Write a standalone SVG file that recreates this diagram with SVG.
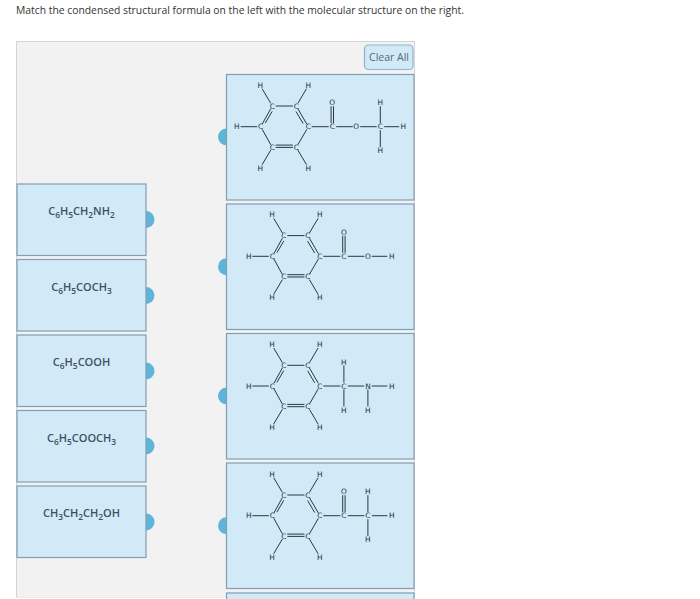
<svg xmlns="http://www.w3.org/2000/svg" width="700" height="599" viewBox="0 0 700 599">
<style>
.title{font:10.35px "Open Sans",sans-serif;fill:#333}
.panel{fill:#f2f2f2;stroke:#d4d4d4;stroke-width:1}
.box{fill:#d2e9f7;stroke:#7f9fb3;stroke-width:1.2}
.btn{fill:#d2e9f7;stroke:#8fb4c9;stroke-width:1.2}
.btntext{font:10.5px "Open Sans",sans-serif;fill:#4f6b7d;text-anchor:middle}
.f{font:600 11px "Open Sans",sans-serif;fill:#3c5165;text-anchor:middle}
.f .s{font-size:8.4px}
.a{font:7.4px "DejaVu Sans",sans-serif;fill:#26323a;text-anchor:middle;dominant-baseline:central}
.h{fill:#5fb5d9}
.b{fill:none;stroke:#2a3842;stroke-width:1}
</style>
<defs>
<path id="ring" class="b" d="M1.500-2.600L10.100-18.100M4.600-3.600L11.500-15.400M15-20.700H32.200M37.100-18.100L46.100-2.600M35.300-15.200L42.400-3.200M46.100 2.600L37.100 18.100M32.200 20.700H15M32.200 18.400H15M10.100 18.100L1.500 2.600M-3.500 0H-20M10.100-23.300L1.400-38M37.100-23.300L45.800-38M10.100 23.300L1.400 38M37.100 23.300L45.800 38M51 0H68"/>
</defs>
<rect width="700" height="599" fill="#fff"/>
<text class="title" x="16" y="14">Match the condensed structural formula on the left with the molecular structure on the right.</text>
<rect id="panel" class="panel" x="16.500" y="41.500" width="398" height="556"/>
<g id="clear-all"><rect class="btn" x="364.500" y="45" width="48.500" height="24.500" rx="4"/><text class="btntext" x="389" y="61">Clear All</text></g>

<g id="formula-1"><path class="h" d="M146 211a8.500 8.500 0 0 1 0 17z"/><rect class="box" x="17" y="184" width="129" height="71.500"/><text class="f" x="81.500" y="215">C<tspan class="s" dy="2.500">6</tspan><tspan dy="-2.500">H</tspan><tspan class="s" dy="2.500">5</tspan><tspan dy="-2.500">CH</tspan><tspan class="s" dy="2.500">2</tspan><tspan dy="-2.500">NH</tspan><tspan class="s" dy="2.500">2</tspan></text></g>
<g id="formula-2"><path class="h" d="M146 287a8.500 8.500 0 0 1 0 17z"/><rect class="box" x="17" y="259.500" width="129" height="71.500"/><text class="f" x="81.500" y="291">C<tspan class="s" dy="2.500">6</tspan><tspan dy="-2.500">H</tspan><tspan class="s" dy="2.500">5</tspan><tspan dy="-2.500">COCH</tspan><tspan class="s" dy="2.500">3</tspan></text></g>
<g id="formula-3"><path class="h" d="M146 362.500a8.500 8.500 0 0 1 0 17z"/><rect class="box" x="17" y="335" width="129" height="71.500"/><text class="f" x="81.500" y="366">C<tspan class="s" dy="2.500">6</tspan><tspan dy="-2.500">H</tspan><tspan class="s" dy="2.500">5</tspan><tspan dy="-2.500">COOH</tspan></text></g>
<g id="formula-4"><path class="h" d="M146 437.500a8.500 8.500 0 0 1 0 17z"/><rect class="box" x="17" y="410.500" width="129" height="71.500"/><text class="f" x="81.500" y="442">C<tspan class="s" dy="2.500">6</tspan><tspan dy="-2.500">H</tspan><tspan class="s" dy="2.500">5</tspan><tspan dy="-2.500">COOCH</tspan><tspan class="s" dy="2.500">3</tspan></text></g>
<g id="formula-5"><path class="h" d="M146 513.500a8.500 8.500 0 0 1 0 17z"/><rect class="box" x="17" y="486" width="129" height="71.500"/><text class="f" x="81.500" y="517">CH<tspan class="s" dy="2.500">3</tspan><tspan dy="-2.500">CH</tspan><tspan class="s" dy="2.500">2</tspan><tspan dy="-2.500">CH</tspan><tspan class="s" dy="2.500">2</tspan><tspan dy="-2.500">OH</tspan></text></g>

<g id="structure-1"><path class="h" d="M226.500 128.500a8.500 8.500 0 0 0 0 17z"/><rect class="box" x="226.500" y="74.500" width="187.500" height="125.500"/>
<g class="a" transform="translate(260.700 126.700)"><text x="0" y="0">C</text><text x="11.600" y="-20.700">C</text><text x="35.600" y="-20.700">C</text><text x="47.600" y="0">C</text><text x="35.600" y="20.700">C</text><text x="11.600" y="20.700">C</text><text x="-24" y="0">H</text><text x="-0.400" y="-41.400">H</text><text x="47.600" y="-41.400">H</text><text x="-0.400" y="41.400">H</text><text x="47.600" y="41.400">H</text><text x="71.600" y="0">C</text><text x="71.600" y="-24">O</text><text x="95.600" y="0">O</text><text x="119.600" y="0">C</text><text x="119.600" y="-24">H</text><text x="119.600" y="24">H</text><text x="142.600" y="0">H</text></g></g>
<g id="structure-2"><path class="h" d="M226.500 258.200a8.500 8.500 0 0 0 0 17z"/><rect class="box" x="226.500" y="204" width="187.500" height="125.500"/>
<g class="a" transform="translate(272.300 256.300)"><text x="0" y="0">C</text><text x="11.600" y="-20.700">C</text><text x="35.600" y="-20.700">C</text><text x="47.600" y="0">C</text><text x="35.600" y="20.700">C</text><text x="11.600" y="20.700">C</text><text x="-23.600" y="0">H</text><text x="-0.400" y="-41.400">H</text><text x="47.600" y="-41.400">H</text><text x="-0.400" y="41.400">H</text><text x="47.600" y="41.400">H</text><text x="71.600" y="0">C</text><text x="71.600" y="-24">O</text><text x="95.600" y="0">O</text><text x="119.400" y="0">H</text></g></g>
<g id="structure-3"><path class="h" d="M226.500 387.500a8.500 8.500 0 0 0 0 17z"/><rect class="box" x="226.500" y="333.500" width="187.500" height="125.500"/>
<g class="a" transform="translate(272.300 386)"><text x="0" y="0">C</text><text x="11.600" y="-20.700">C</text><text x="35.600" y="-20.700">C</text><text x="47.600" y="0">C</text><text x="35.600" y="20.700">C</text><text x="11.600" y="20.700">C</text><text x="-23.600" y="0">H</text><text x="-0.400" y="-41.400">H</text><text x="47.600" y="-41.400">H</text><text x="-0.400" y="41.400">H</text><text x="47.600" y="41.400">H</text><text x="71.600" y="0">C</text><text x="71.600" y="-24">H</text><text x="71.600" y="24">H</text><text x="95.600" y="0">N</text><text x="95.600" y="24">H</text><text x="119.400" y="0">H</text></g></g>
<g id="structure-4"><path class="h" d="M226.500 517.200a8.500 8.500 0 0 0 0 17z"/><rect class="box" x="226.500" y="463" width="187.500" height="125.500"/>
<g class="a" transform="translate(272.300 515.700)"><text x="0" y="0">C</text><text x="11.600" y="-20.700">C</text><text x="35.600" y="-20.700">C</text><text x="47.600" y="0">C</text><text x="35.600" y="20.700">C</text><text x="11.600" y="20.700">C</text><text x="-23.600" y="0">H</text><text x="-0.400" y="-41.400">H</text><text x="47.600" y="-41.400">H</text><text x="-0.400" y="41.400">H</text><text x="47.600" y="41.400">H</text><text x="71.600" y="0">C</text><text x="71.600" y="-24">O</text><text x="95.600" y="0">C</text><text x="95.600" y="-24">H</text><text x="95.600" y="24">H</text><text x="119.400" y="0">H</text></g></g>
<g id="structure-5"><rect class="box" x="226.500" y="593" width="187.500" height="12"/></g>
<rect x="0" y="597.500" width="226" height="1.500" fill="#fff"/>

<g id="connectors">
<g transform="translate(260.700 126.700)"><use href="#ring"/><path class="b" d="M70.400-3.500V-20.500M72.800-3.500V-20.500M75.500 0H92M99.500 0H116M123.500 0H138.500M119.600-3.500V-20.500M119.600 3.500V20.500"/></g>
<g transform="translate(272.300 256.300)"><use href="#ring"/><path class="b" d="M70.400-3.500V-20.500M72.800-3.500V-20.500M75.500 0H92M99.500 0H115"/></g>
<g transform="translate(272.300 386)"><use href="#ring"/><path class="b" d="M71.600-3.500V-20.500M71.600 3.500V20.500M75.500 0H92M99.500 0H115M95.600 3.500V20.500"/></g>
<g transform="translate(272.300 515.700)"><use href="#ring"/><path class="b" d="M70.400-3.500V-20.500M72.800-3.500V-20.500M75.500 0H92M99.500 0H115M95.600-3.500V-20.500M95.600 3.500V20.500"/></g>
</g>
</svg>
